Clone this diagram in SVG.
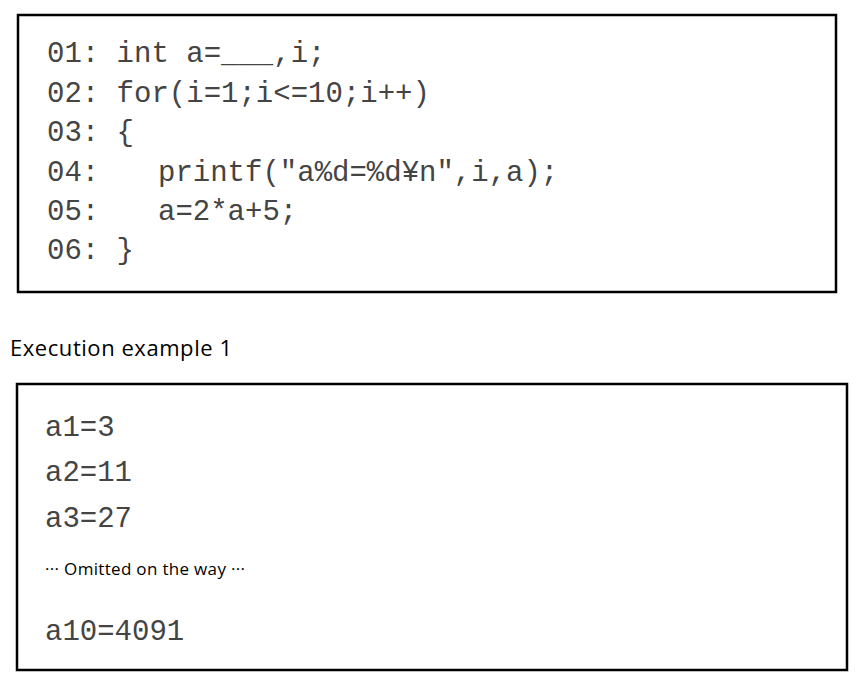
<svg xmlns="http://www.w3.org/2000/svg" width="859" height="691" viewBox="0 0 859 691">
<style>
.box{fill:#fff;stroke:#000;stroke-width:2.5}
.code{font-family:"Liberation Mono",monospace;font-size:29px;fill:#444}
.sans{font-family:"Open Sans","Liberation Sans",sans-serif;fill:#000}
</style>
<rect width="859" height="691" fill="#fff"/>
<g id="code-box">
<rect class="box" x="18" y="15" width="818" height="277"/>
<text class="code" x="47" y="62" xml:space="preserve">01: int a=___,i;</text>
<text class="code" x="47" y="102" xml:space="preserve">02: for(i=1;i&lt;=10;i++)</text>
<text class="code" x="47" y="141" xml:space="preserve">03: {</text>
<text class="code" x="47" y="181" xml:space="preserve">04:</text>
<text class="code" x="158" y="181">printf("a%d=%d¥n",i,a);</text>
<text class="code" x="47" y="220" xml:space="preserve">05:</text>
<text class="code" x="158" y="220">a=2*a+5;</text>
<text class="code" x="47" y="259" xml:space="preserve">06: }</text>
</g>
<g id="label">
<text class="sans" x="10" y="356" font-size="22" textLength="222">Execution example 1</text>
</g>
<g id="output-box">
<rect class="box" x="17" y="384" width="830" height="286"/>
<text class="code" x="45" y="436">a1=3</text>
<text class="code" x="45" y="481">a2=11</text>
<text class="code" x="45" y="527">a3=27</text>
<text class="sans" x="45" y="575" font-size="17" textLength="200">··· Omitted on the way ···</text>
<text class="code" x="45" y="640">a10=4091</text>
</g>
</svg>
